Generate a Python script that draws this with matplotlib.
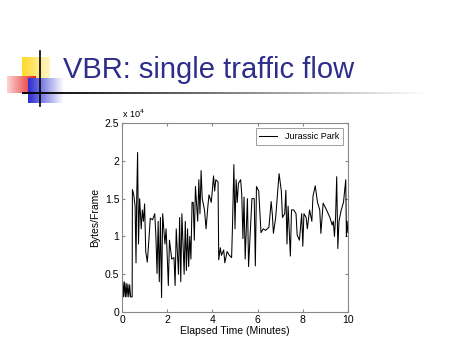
import numpy as np
import matplotlib.pyplot as plt
from matplotlib.colors import LinearSegmentedColormap

# elapsed time (minutes) and bytes per frame (x 1e4)
t = [0.0, 0.03, 0.07, 0.1, 0.15, 0.18, 0.22, 0.26, 0.3, 0.34, 0.38, 0.42, 0.45,
     0.46, 0.52, 0.58, 0.62, 0.65, 0.69, 0.73, 0.78, 0.85, 0.9, 0.95, 1.0,
     1.05, 1.12, 1.2, 1.25, 1.35, 1.45, 1.5, 1.55, 1.6, 1.65, 1.7, 1.75, 1.8,
     1.9, 1.95, 2.0, 2.05, 2.1, 2.2, 2.3, 2.35, 2.4, 2.5, 2.55, 2.6, 2.65,
     2.75, 2.8, 2.85, 2.9, 2.95, 3.0, 3.05, 3.1, 3.15, 3.2, 3.25, 3.35, 3.4,
     3.45, 3.5, 3.55, 3.65, 3.72, 3.8, 3.85, 3.95, 4.05, 4.1, 4.15, 4.25,
     4.28, 4.35, 4.4, 4.5, 4.55, 4.65, 4.75, 4.85, 4.89, 4.95, 5.0, 5.05,
     5.1, 5.15, 5.25, 5.3, 5.35, 5.4, 5.45, 5.55, 5.6, 5.7, 5.75, 5.85, 5.9,
     5.95, 6.05, 6.15, 6.25, 6.35, 6.5, 6.6, 6.65, 6.7, 6.8, 6.95, 7.05, 7.1,
     7.2, 7.25, 7.3, 7.35, 7.45, 7.5, 7.6, 7.7, 7.75, 7.85, 7.95, 8.0, 8.05,
     8.15, 8.2, 8.3, 8.4, 8.45, 8.55, 8.65, 8.75, 8.8, 8.9, 9.05, 9.2, 9.3,
     9.35, 9.4, 9.45, 9.5, 9.55, 9.6, 9.7, 9.8, 9.9, 9.93, 9.96, 10.0]
bytes_frame = [0.35, 0.4, 0.2, 0.4, 0.2, 0.38, 0.2, 0.37, 0.2, 0.36, 0.2, 0.2, 0.2,
               1.62, 1.55, 1.4, 0.65, 1.5, 2.11, 0.9, 1.5, 1.1, 1.35, 1.2, 1.43,
               0.8, 0.66, 1.0, 1.24, 1.22, 1.3, 1.0, 0.51, 1.2, 0.4, 1.25, 0.19, 1.3,
               0.9, 1.1, 0.75, 0.35, 0.95, 0.7, 0.72, 0.35, 1.1, 0.5, 1.25, 0.4, 1.3,
               0.5, 1.2, 0.55, 1.1, 0.6, 1.0, 0.7, 1.45, 1.45, 0.95, 1.66, 1.2, 1.75,
               1.3, 1.87, 1.5, 1.35, 1.1, 1.4, 1.55, 1.45, 1.8, 1.6, 1.75, 1.72,
               0.69, 0.85, 0.75, 0.82, 0.65, 0.8, 0.75, 0.72, 1.15, 1.95, 1.1, 1.75,
               1.45, 1.7, 1.75, 1.55, 0.97, 1.52, 0.7, 1.5, 0.6, 1.2, 1.5, 1.5, 0.61,
               1.66, 1.6, 1.05, 1.1, 1.08, 1.12, 1.46, 1.3, 1.04, 1.25, 1.83, 1.6, 1.25,
               1.3, 1.61, 0.9, 1.4, 0.74, 1.35, 1.35, 1.3, 1.02, 0.95, 1.3, 0.87, 1.3,
               1.25, 1.1, 1.35, 1.2, 1.53, 1.67, 1.45, 1.35, 1.04, 1.44, 1.35, 1.25, 1.15,
               1.2, 1.0, 1.25, 1.79, 0.84, 1.2, 1.35, 1.45, 1.75, 1.0, 1.2, 1.05]

fig = plt.figure(figsize=(4.74, 3.55), dpi=100)

# slide decoration drawn in pixel coordinates
deco = fig.add_axes([0, 0, 1, 1])
deco.set_xlim(0, 474)
deco.set_ylim(355, 0)
deco.axis('off')


def grad(c1, c2, extent, z=1):
    cm = LinearSegmentedColormap.from_list('g', [c1, c2])
    deco.imshow(np.linspace(0, 1, 64).reshape(1, -1), cmap=cm, extent=extent,
                aspect='auto', zorder=z)


grad('#ffd92a', '#fff6c8', (22, 50, 82, 57), 1)
grad('#fbd4d4', '#e82020', (7, 36, 93, 76), 2)
grad('#2b2bd0', '#ffffff', (28, 64, 103, 78), 3)
grad('#000000', '#ffffff', (22, 430, 94, 92.6), 4)
deco.plot([40, 40], [51, 106], color='black', lw=1.2, zorder=5)
deco.text(63, 78, 'VBR: single traffic flow', fontsize=21, color='#2e2e8a',
          va='baseline', ha='left', family='Liberation Sans')

ax = fig.add_axes([122 / 474, 1 - 312 / 355, 226 / 474, 189 / 355])
ax.plot(t, bytes_frame, color='black', lw=0.75, label='Jurassic Park')
ax.set_xlim(0, 10)
ax.set_ylim(0, 2.5)
ax.set_xticks([0, 2, 4, 6, 8, 10])
ax.set_yticks([0, 0.5, 1, 1.5, 2, 2.5])
ax.set_yticklabels(['0', '0.5', '1', '1.5', '2', '2.5'])
ax.tick_params(direction='in', length=2.5, labelsize=7.5, top=True, right=True,
               color='#888888', pad=2)
for s in ax.spines.values():
    s.set_color('#888888')
    s.set_linewidth(0.8)
ax.set_xlabel('Elapsed Time (Minutes)', fontsize=7.5, labelpad=1, family='Liberation Sans')
ax.set_ylabel('Bytes/Frame', fontsize=7.5, labelpad=3, family='Liberation Sans')
ax.text(0, 1.015, r'x 10$^4$', transform=ax.transAxes, fontsize=6.5,
        ha='left', va='bottom', family='Liberation Sans')
for lbl in ax.get_xticklabels() + ax.get_yticklabels():
    lbl.set_family('Liberation Sans')
leg = ax.legend(loc='upper right', frameon=True, fancybox=False,
                handlelength=2.0, borderpad=0.4, borderaxespad=0.6,
                prop={'family': 'Liberation Sans', 'size': 6.5})
leg.get_frame().set_edgecolor('#888888')
leg.get_frame().set_linewidth(0.7)

plt.savefig('out.png', dpi=100)
